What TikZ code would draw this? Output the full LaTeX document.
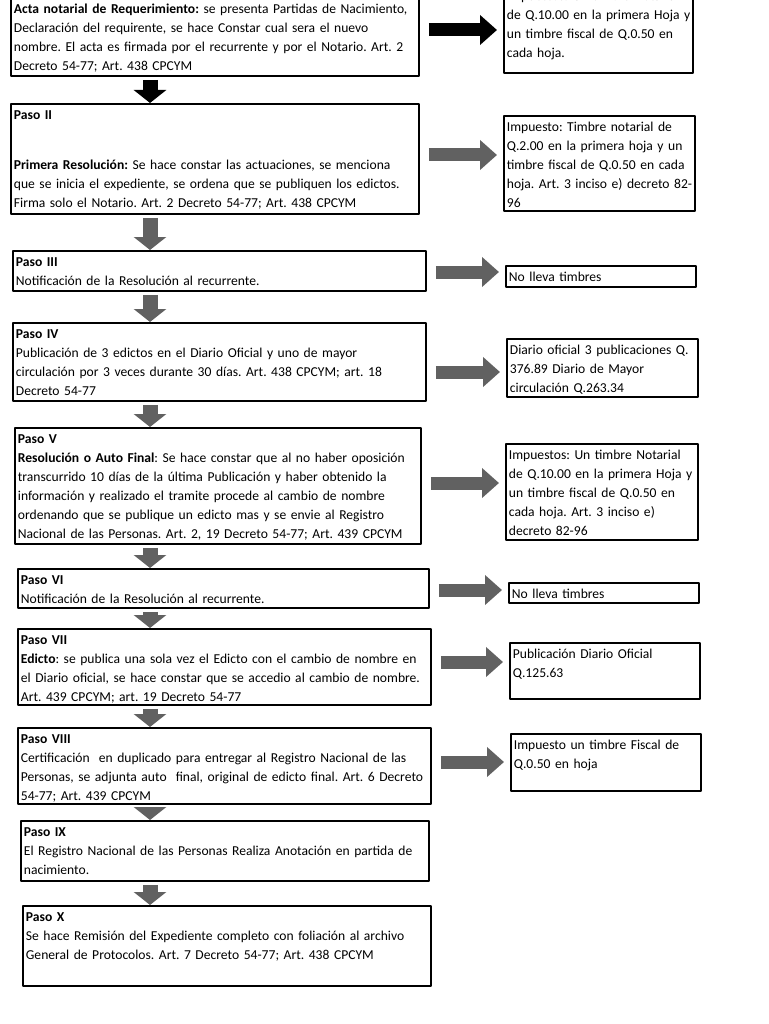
\documentclass[tikz,border=0pt]{standalone}
\usepackage{fontspec}
\setmainfont{Carlito}
\usetikzlibrary{arrows.meta}
\definecolor{arrowgray}{gray}{0.38}

\begin{document}
\begin{tikzpicture}[
    x = 1pt, y = -1pt,
    line join=round,
    stepbox/.style = {draw, line width=1.8pt, anchor=north west, align=left,
        inner xsep=3pt, inner ysep=4pt, text height=12pt,
        font=\fontsize{13.6}{19}\selectfont,
        execute at begin node={\frenchspacing\hyphenpenalty=10000
            \rightskip=0pt plus 1fil minus 80pt}},
    sidearrow/.style = {arrowgray, line width=13pt, -{Triangle[width=29pt, length=17pt]},
        shorten <=9pt, shorten >=6pt},
    downarrow/.style = {arrowgray, line width=15pt, -{Triangle[width=32pt, length=13pt]},
        shorten <=3pt}
]

\useasboundingbox (0,0) rectangle (768,1024);

% left column: the steps
\node[stepbox, text width=402pt, text depth=58pt] (b1) at (10,-3)
    {\textbf{Acta notarial de Requerimiento:} se presenta Partidas de Nacimiento,\\
     Declaración del requirente, se hace Constar cual sera el nuevo\\
     nombre. El acta es firmada por el recurrente y por el Notario. Art. 2\\
     Decreto 54-77; Art. 438 CPCYM};
\node[stepbox, text width=402pt, text depth=90pt] (b2) at (10,103)
    {\textbf{Paso II}\\[31pt]
     \textbf{Primera Resolución:} Se hace constar las actuaciones, se menciona\\
     que se inicia el expediente, se ordena que se publiquen los edictos.\\
     Firma solo el Notario. Art. 2 Decreto 54-77; Art. 438 CPCYM};
\node[stepbox, text width=407pt, text depth=20pt] (b3) at (12,250)
    {\textbf{Paso III}\\
     Notificación de la Resolución al recurrente.};
\node[stepbox, text width=407pt, text depth=58pt] (b4) at (12,322)
    {\textbf{Paso IV}\\
     Publicación de 3 edictos en el Diario Oficial y uno de mayor\\
     circulación por 3 veces durante 30 días. Art. 438 CPCYM; art. 18\\
     Decreto 54-77};
\node[stepbox, text width=400pt, text depth=96pt] (b5) at (14,427)
    {\textbf{Paso V}\\
     \textbf{Resolución o Auto Final}: Se hace constar que al no haber oposición\\
     transcurrido 10 días de la última Publicación y haber obtenido la\\
     información y realizado el tramite procede al cambio de nombre\\
     ordenando que se publique un edicto mas y se envie al Registro\\
     Nacional de las Personas. Art. 2, 19 Decreto 54-77; Art. 439 CPCYM};
\node[stepbox, text width=405pt, text depth=19pt] (b6) at (17,568)
    {\textbf{Paso VI}\\
     Notificación de la Resolución al recurrente.};
\node[stepbox, text width=407pt, text depth=56pt] (b7) at (17,628)
    {\textbf{Paso VII}\\
     \textbf{Edicto}: se publica una sola vez el Edicto con el cambio de nombre en\\
     el Diario oficial, se hace constar que se accedio al cambio de nombre.\\
     Art. 439 CPCYM; art. 19 Decreto 54-77};
\node[stepbox, text width=407pt, text depth=56pt] (b8) at (17,727)
    {\textbf{Paso VIII}\\
     Certificación\ \ en duplicado para entregar al Registro Nacional de las\\
     Personas, se adjunta auto\ \ final, original de edicto final. Art. 6 Decreto\\
     54-77; Art. 439 CPCYM};
\node[stepbox, text width=402pt, text depth=40pt] (b9) at (20,820)
    {\textbf{Paso IX}\\
     El Registro Nacional de las Personas Realiza Anotación en partida de\\
     nacimiento.};
\node[stepbox, text width=402pt, text depth=60pt] (b10) at (22,905)
    {\textbf{Paso X}\\
     Se hace Remisión del Expediente completo con foliación al archivo\\
     General de Protocolos. Art. 7 Decreto 54-77; Art. 438 CPCYM};

% right column: stamps and costs
\node[stepbox, text width=183pt, text depth=68pt] (r1) at (503,-16)
    {Impuestos: Un timbre Notarial\\
     de Q.10.00 en la primera Hoja y\\
     un timbre fiscal de Q.0.50 en\\
     cada hoja.};
\node[stepbox, text width=185pt, text depth=75pt] (r2) at (503,115)
    {Impuesto: Timbre notarial de\\
     Q.2.00 en la primera hoja y un\\
     timbre fiscal de Q.0.50 en cada\\
     hoja. Art. 3 inciso e) decreto 82-\\
     96};
\node[stepbox, text width=184pt, text depth=1pt] (r3) at (505,265)
    {No lleva timbres};
\node[stepbox, text width=185pt, text depth=38pt] (r4) at (506,338)
    {Diario oficial 3 publicaciones Q.\\
     376.89 Diario de Mayor\\
     circulación Q.263.34};
\node[stepbox, text width=186pt, text depth=76pt] (r5) at (505,443)
    {Impuestos: Un timbre Notarial\\
     de Q.10.00 en la primera Hoja y\\
     un timbre fiscal de Q.0.50 en\\
     cada hoja. Art. 3 inciso e)\\
     decreto 82-96};
\node[stepbox, text width=184pt, text depth=0pt] (r6) at (508,582)
    {No lleva timbres};
\node[stepbox, text width=184pt, text depth=36pt] (r7) at (509,642)
    {Publicación Diario Oficial\\
     Q.125.63};
\node[stepbox, text width=184pt, text depth=37pt] (r8) at (510,733)
    {Impuesto un timbre Fiscal de\\
     Q.0.50 en hoja};

% arrows
\coordinate (col) at (150,0);
\draw[downarrow, black] (b1.south -| col) -- (b2.north -| col);
\foreach \a/\b in {b2/b3, b3/b4, b4/b5, b5/b6, b6/b7, b7/b8, b8/b9, b9/b10}
    \draw[downarrow] (\a.south -| col) -- (\b.north -| col);

\draw[sidearrow, black] (b1.east |- 0,30) -- (r1.west |- 0,30);
\foreach \i/\y in {2/155, 3/272, 4/372, 5/483, 6/590, 7/662, 8/762}
    \draw[sidearrow] (b\i.east |- 0,\y) -- (r\i.west |- 0,\y);

\end{tikzpicture}
\end{document}
